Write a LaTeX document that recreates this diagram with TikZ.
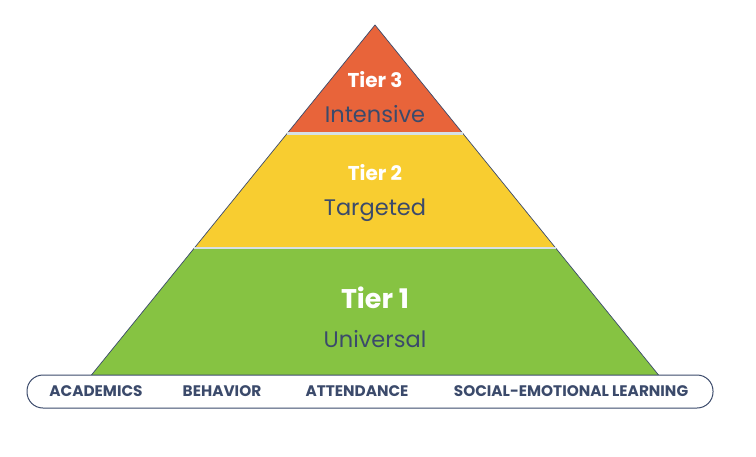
\documentclass[tikz,border=0pt]{standalone}
\usepackage{fontspec}
\setmainfont{Poppins}
\definecolor{navy}{HTML}{3B4A6B}
\definecolor{tierred}{HTML}{E8643A}
\definecolor{tieryellow}{HTML}{F8CD30}
\definecolor{tiergreen}{HTML}{86C342}
\definecolor{gapgrey}{HTML}{D6E0E6}
\tikzset{
  tiername/.style={text=white,font=\bfseries\fontsize{20}{24}\selectfont},
  tierkind/.style={text=navy,font=\fontsize{22.5}{26}\selectfont},
  area/.style={text=navy,font=\bfseries\fontsize{15.3}{18}\selectfont}
}
\begin{document}
\begin{tikzpicture}[x=1pt,y=-1pt]
    \useasboundingbox (0,0) rectangle (756,456);

    % tiers
    \fill[tiergreen] (194.4,248)--(555.6,248)--(670.7,390)--(79.3,390)--cycle;
    \fill[tieryellow] (287.1,133.5)--(462.9,133.5)--(555.6,248)--(194.4,248)--cycle;
    \fill[tierred] (375,25)--(462.9,133.5)--(287.1,133.5)--cycle;
    \draw[navy,line width=0.7pt] (79.3,390)--(375,25)--(670.7,390);
    \draw[gapgrey,line width=2.5pt] (287.1,133.5)--(462.9,133.5);
    \draw[gapgrey,line width=2.5pt] (194.4,248)--(555.6,248);

    \node[tiername] (t3) at (375,80) {Tier 3};
    \node[tierkind] (k3) at (375,114) {Intensive};
    \node[tiername] (t2) at (375,173) {Tier 2};
    \node[tierkind] (k2) at (375,210) {Targeted};
    \node[tiername,font=\bfseries\fontsize{27}{32}\selectfont] (t1) at (375,298) {Tier 1};
    \node[tierkind] (k1) at (375,339) {Universal};

    % foundation bar
    \draw[navy,fill=white,line width=1pt,rounded corners=16pt] (27,375) rectangle (713,408);
    \node[area] (academics) at (96,391) {ACADEMICS};
    \node[area] (behavior) at (222,391) {BEHAVIOR};
    \node[area] (attendance) at (357,391) {ATTENDANCE};
    \node[area] (sel) at (571,391) {SOCIAL-EMOTIONAL LEARNING};
\end{tikzpicture}
\end{document}
